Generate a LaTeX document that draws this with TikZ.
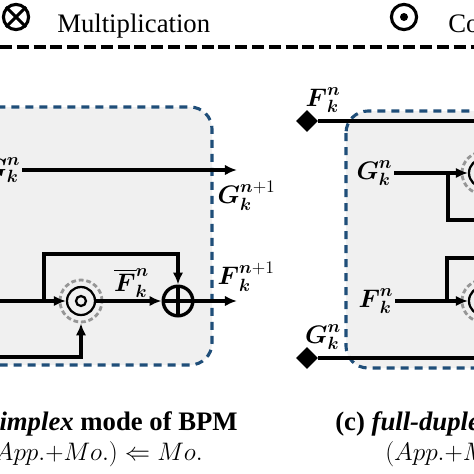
\documentclass[tikz,border=0pt]{standalone}
\usepackage{fix-cm}
\usepackage{amsmath}
\usepackage[no-math]{fontspec}
\setmainfont{Liberation Serif}
\usetikzlibrary{shapes.geometric, arrows.meta}

\definecolor{boxblue}{RGB}{31,78,121}
\definecolor{boxfill}{RGB}{240,240,240}
\definecolor{halogray}{RGB}{150,150,150}

\newcommand{\bv}[1]{\boldsymbol{#1}}

\begin{document}
\begin{tikzpicture}[x=0.025cm, y=-0.025cm,
  wire/.style={line width=2.4pt, draw=black},
  tip/.style={-{Latex[length=0.3cm, width=0.26cm]}},
  blockbox/.style={draw=boxblue, fill=boxfill, line width=2.2pt, dash pattern=on 0.2cm off 0.15cm, rounded corners=0.55cm},
  op/.style={circle, draw=black, line width=1.6pt, minimum size=0.7cm, inner sep=0pt},
  ring/.style={circle, draw=black, line width=1.6pt, minimum size=0.25cm, inner sep=0pt},
  halo/.style={circle, draw=halogray, line width=2pt, dash pattern=on 0.12cm off 0.07cm, minimum size=1.05cm, inner sep=0pt},
  legop/.style={circle, draw=black, line width=2.2pt, minimum size=0.63cm, inner sep=0pt},
  port/.style={diamond, fill=black, minimum size=0.55cm, inner sep=0pt},
  lbl/.style={font=\fontsize{18}{21}\selectfont, inner sep=1pt},
  capt/.style={font=\fontsize{19}{22}\selectfont, inner sep=0pt}]

\fill[white] (0,0) rectangle (474,474);
\useasboundingbox (0,0) rectangle (474,474);
\clip (0,0) rectangle (474,474);

% legend
\node [legop] (mul) at (16,17) {};
\draw [line width=2.2pt, draw=black] (mul.north west) -- (mul.south east);
\draw [line width=2.2pt, draw=black] (mul.north east) -- (mul.south west);
\node [capt, anchor=base west] (multxt) at (57,32) {Multiplication};
\node [legop] (con) at (404,17) {};
\node [circle, fill=black, minimum size=0.2cm, inner sep=0pt] (condot) at (con) {};
\node [capt, anchor=base west] (contxt) at (448,32) {Concatenation};
\draw [line width=2.4pt, draw=black, dash pattern=on 0.3cm off 0.12cm] (0,47) -- (474,47);

% (b) simplex
\draw [blockbox] (-40,107) rectangle (212,365);

\node [lbl, anchor=east] (gin) at (22,170) {$\bv{G}_{\bv{k}}^{\bv{n}}$};
\coordinate (gout) at (237,170);
\draw [wire, tip] (gin.east) -- (gout);
\node [lbl, anchor=west] (gnext) at (216,196) {$\bv{G}_{\bv{k}}^{\bv{n}+1}$};

\coordinate (fin) at (-10,301);
\coordinate (b1) at (44,301);
\coordinate (t1) at (44,254);
\coordinate (lin) at (-10,357);
\coordinate (fout) at (237,301);
\node [op] (dot1) at (81,301) {};
\node [ring] (dot1c) at (dot1) {};
\node [halo] (h1) at (dot1) {};
\node [op, line width=2.4pt, minimum size=0.74cm] (add1) at (178,301) {};
\draw [wire] (add1.north) -- (add1.south);
\draw [wire] (add1.west) -- (add1.east);

\draw [wire] (fin) -- (b1);
\draw [wire, tip] (b1) -- (dot1);
\draw [wire, tip] (b1) -- (t1) -| (add1);
\draw [wire, tip] (dot1) -- node [lbl, above, xshift=2pt] (fbar) {$\overline{\bv{F}}_{\bv{k}}^{\bv{n}}$} (add1);
\draw [wire, tip] (add1) -- (fout);
\draw [wire, tip] (lin) -| (h1.south);
\node [lbl, anchor=west] (fnext) at (216,277) {$\bv{F}_{\bv{k}}^{\bv{n}+1}$};

\node [capt, anchor=base east] (capb) at (238,430) {\textbf{(b) \textit{simplex} mode of BPM}};
\node [capt, anchor=base east, font=\fontsize{18}{21}\selectfont] (capb2) at (203,460) {$(App.{+}Mo.)\Leftarrow Mo.$};

% (c) full-duplex
\draw [blockbox] (346,111) rectangle (540,368);

\node [port] (fport) at (307,121) {};
\node [port] (gport) at (307,358) {};
\coordinate (fend) at (480,121);
\coordinate (gend) at (480,358);
\draw [wire] (fport) -- (fend);
\draw [wire] (gport) -- (gend);
\node [lbl] (flab) at (323,100) {$\bv{F}_{\bv{k}}^{\bv{n}}$};
\node [lbl] (glab) at (323,337) {$\bv{G}_{\bv{k}}^{\bv{n}}$};

\node [lbl, anchor=east] (gin2) at (394,173) {$\bv{G}_{\bv{k}}^{\bv{n}}$};
\node [lbl, anchor=east] (fin2) at (395,301) {$\bv{F}_{\bv{k}}^{\bv{n}}$};
\node [op] (dot2) at (483,173) {};
\node [ring] (dot2c) at (dot2) {};
\node [halo] (h2) at (dot2) {};
\node [op] (dot3) at (483,301) {};
\node [ring] (dot3c) at (dot3) {};
\node [halo] (h3) at (dot3) {};
\coordinate (b2) at (448,173);
\coordinate (c2) at (480,220);
\coordinate (b3) at (447,301);
\coordinate (c3) at (480,258);

\draw [wire, tip] (gin2.east) -- (dot2);
\draw [wire, tip] (fin2.east) -- (dot3);
\draw [wire] (b2) |- (c2);
\draw [wire] (b3) |- (c3);

\node [capt, anchor=base west] (capc) at (335,430) {\textbf{(c) \textit{full-duplex}}};
\node [capt, anchor=base west, font=\fontsize{18}{21}\selectfont] (capc2) at (385,460) {$(App.{+}Mo.)$};

\end{tikzpicture}
\end{document}
